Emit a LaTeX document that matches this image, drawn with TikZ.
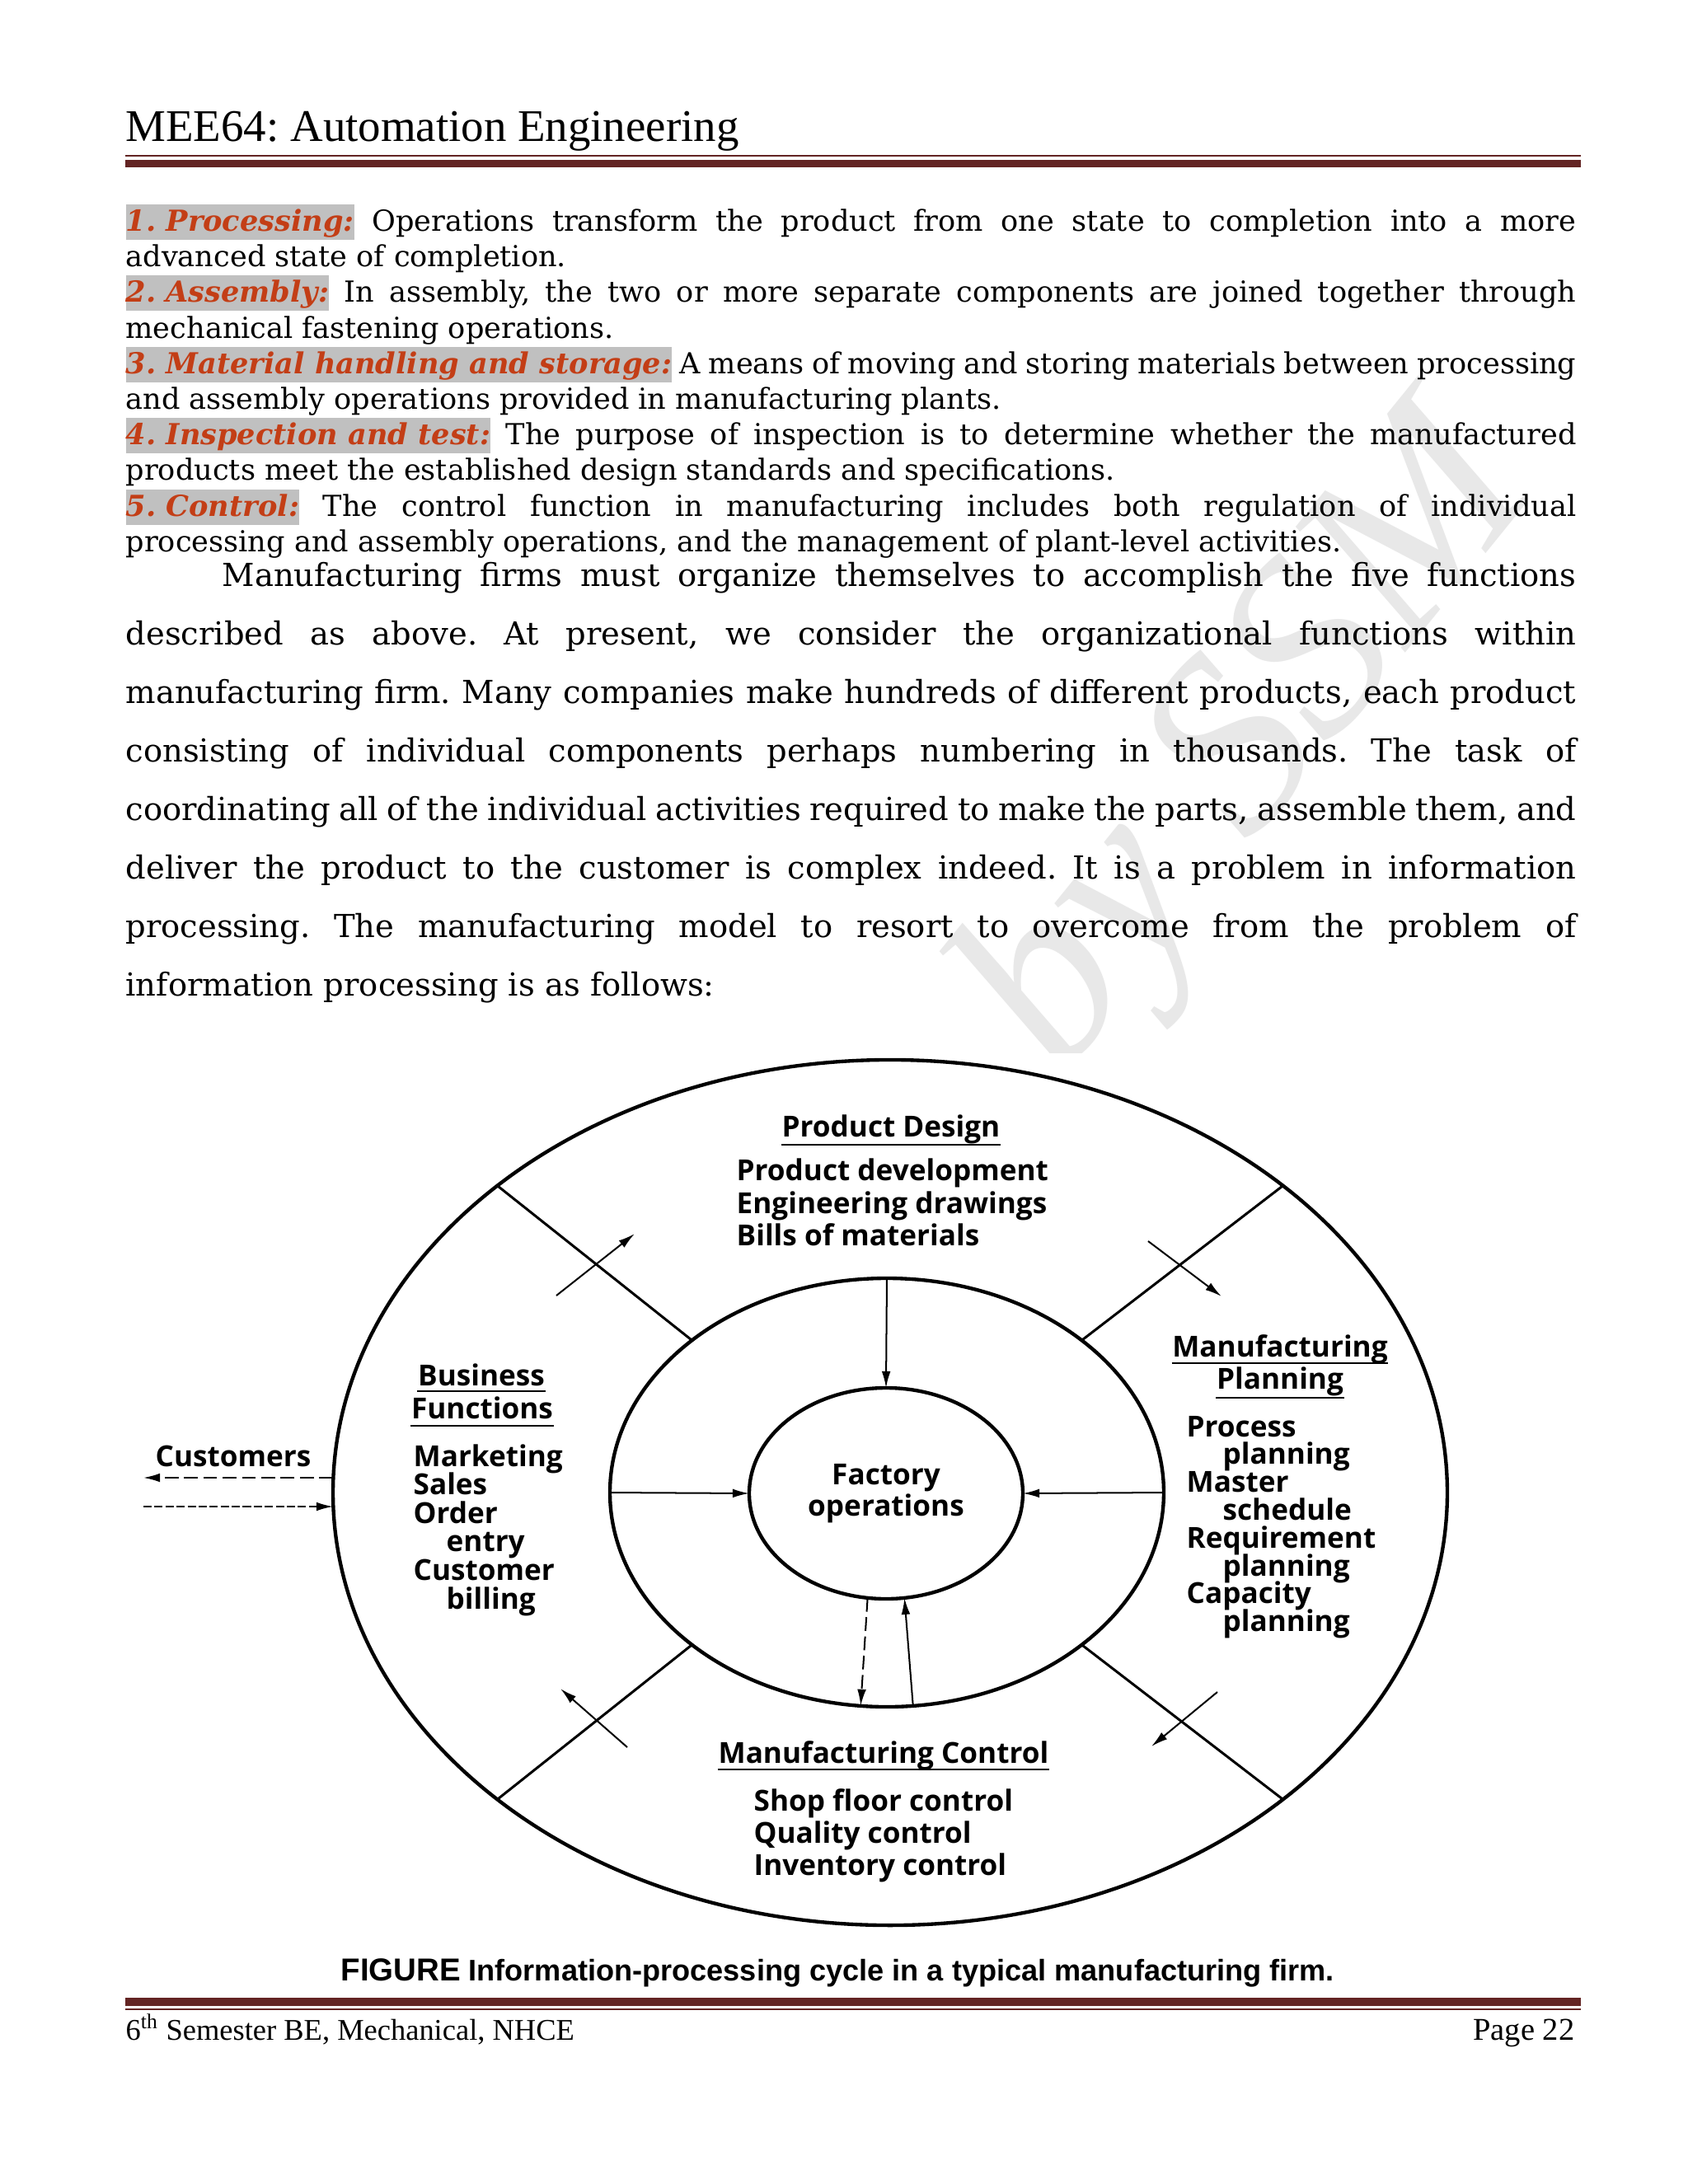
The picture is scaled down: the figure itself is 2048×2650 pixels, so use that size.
\documentclass[tikz,border=0pt]{standalone}
\usepackage{fontspec}
\setmainfont{DejaVu Serif}
\newfontfamily\hdfont{Liberation Serif}
\newfontfamily\dgfont{Open Sans}
\newfontfamily\capfont{Liberation Sans}
\usepackage{tikz}
\usetikzlibrary{arrows.meta,shapes.geometric,calc}
\definecolor{rulered}{RGB}{99,36,35}
\definecolor{labred}{RGB}{195,62,22}
\definecolor{hlgray}{RGB}{192,192,192}
\definecolor{wmgray}{RGB}{232,232,232}
\newlength\tw
\setlength\tw{525.9pt}
\newcommand\jl[1]{\makebox[\tw][s]{#1}}
\newcommand\lab[1]{{\setlength\fboxsep{0pt}\colorbox{hlgray}{\rule[-3.3pt]{0pt}{12.9pt}\textcolor{labred}{\bfseries\itshape #1}}}}
\frenchspacing

\begin{document}
\begin{tikzpicture}[x=0.29883pt,y=-0.29883pt,
    items/.style={anchor=base west,inner sep=0pt,font=\fontsize{10.5}{12}\selectfont},
    para/.style={anchor=base west,inner sep=0pt,font=\fontsize{11.5}{13}\selectfont},
    ring/.style={ellipse,draw,line width=1.3pt,inner sep=0pt,outer sep=0pt},
    divider/.style={line width=0.9pt},
    flow/.style={line width=0.6pt,-{Latex[length=6pt,width=3.2pt]}},
    flowdash/.style={flow,dash pattern=on 5pt off 2pt},
    head/.style={anchor=base,inner sep=0pt,font=\dgfont\bfseries\fontsize{10.5}{12}\selectfont},
    entry/.style={anchor=base west,inner sep=0pt,font=\dgfont\bfseries\fontsize{10.5}{12}\selectfont},
    uline/.style={line width=0.8pt}]
  \useasboundingbox (0,0) rectangle (2048,2650);

  \node[rotate=51,inner sep=0pt,text=wmgray,font=\hdfont\itshape\fontsize{91}{91}\selectfont] (wm) at (1521,905) {by SSM};

  \node[anchor=base west,inner sep=0pt,font=\hdfont\fontsize{16.4}{19}\selectfont] (title) at (152,171) {MEE64: Automation Engineering};
  \draw[rulered,line width=0.75pt] (152,189) -- (1918,189);
  \fill[rulered] (152,194) rectangle (1918,203);

  \node[items] (i1) at (152,280) {\jl{\lab{1. Processing:} Operations transform the product from one state to completion into a more}};
  \node[items] (i2) at (152,323) {advanced state of completion.};
  \node[items] (i3) at (152,366) {\jl{\lab{2. Assembly:} In assembly, the two or more separate components are joined together through}};
  \node[items] (i4) at (152,410) {mechanical fastening operations.};
  \node[items] (i5) at (152,453) {\jl{\lab{3. Material handling and storage:} A means of moving and storing materials between processing}};
  \node[items] (i6) at (152,496) {and assembly operations provided in manufacturing plants.};
  \node[items] (i7) at (152,539) {\jl{\lab{4. Inspection and test:} The purpose of inspection is to determine whether the manufactured}};
  \node[items] (i8) at (152,582) {products meet the established design standards and specifications.};
  \node[items] (i9) at (152,626) {\jl{\lab{5. Control:} The control function in manufacturing includes both regulation of individual}};
  \node[items] (i10) at (152,669) {processing and assembly operations, and the management of plant-level activities.};

  \node[para] (p1) at (152,711) {\jl{\hspace*{35pt}Manufacturing firms must organize themselves to accomplish the five functions}};
  \node[para] (p2) at (152,782) {\jl{described as above. At present, we consider the organizational functions within}};
  \node[para] (p3) at (152,853) {\jl{manufacturing firm. Many companies make hundreds of different products, each product}};
  \node[para] (p4) at (152,924) {\jl{consisting of individual components perhaps numbering in thousands. The task of}};
  \node[para] (p5) at (152,995) {\jl{coordinating all of the individual activities required to make the parts, assemble them, and}};
  \node[para] (p6) at (152,1066) {\jl{deliver the product to the customer is complex indeed. It is a problem in information}};
  \node[para] (p7) at (152,1137) {\jl{processing. The manufacturing model to resort to overcome from the problem of}};
  \node[para] (p8) at (152,1208) {information processing is as follows:};

  \fill[white] (150,1278) rectangle (1900,2415);

  \node[ring,minimum width=404pt,minimum height=313.8pt] (outer) at (1080,1811) {};
  \node[ring,minimum width=200.8pt,minimum height=155.4pt] (mid) at (1076,1811) {};
  \node[ring,minimum width=99.2pt,minimum height=76.5pt,align=center,font=\dgfont\bfseries\fontsize{10.5}{10}\selectfont] (inner) at (1075,1812) {Factory\\operations};

  \draw[divider] (outer.142) -- (mid.142);
  \draw[divider] (outer.38) -- (mid.38);
  \draw[divider] (outer.218) -- (mid.218);
  \draw[divider] (outer.322) -- (mid.322);

  \coordinate (ulA) at (675,1572);
  \coordinate (ulB) at (770,1497);
  \coordinate (urA) at (1393,1506);
  \coordinate (urB) at (1482,1573);
  \coordinate (lrA) at (1477,2053);
  \coordinate (lrB) at (1397,2119);
  \coordinate (llA) at (761,2120);
  \coordinate (llB) at (680,2049);
  \draw[flow] (ulA) -- (ulB);
  \draw[flow] (urA) -- (urB);
  \draw[flow] (lrA) -- (lrB);
  \draw[flow] (llA) -- (llB);

  \draw[flow] (mid.north) -- (inner.north);
  \draw[flow] (mid.west) -- (inner.west);
  \draw[flow] (mid.east) -- (inner.east);
  \draw[flowdash] (inner.260) -- (mid.263);
  \draw[flow] (mid.277) -- (inner.280);

  \coordinate (custA) at (174,1793);
  \coordinate (custB) at (174,1828);
  \draw[flowdash] (outer.west |- custA) -- (custA);
  \draw[flow,dash pattern=on 3pt off 1pt] (custB) -- (outer.west |- custB);
  \node[head] (cust) at (283,1779) {Customers};

  \node[head] (pd) at (1081,1379) {Product Design};
  \draw[uline] ($(pd.base west)+(0,10)$) -- ($(pd.base east)+(0,10)$);
  \foreach \t [count=\k] in {Product development,Engineering drawings,Bills of materials}
    \node[entry] (pd\k) at (893,1393+39.5*\k) {\t};

  \node[head] (bf1) at (584,1681) {Business};
  \draw[uline] ($(bf1.base west)+(0,7)$) -- ($(bf1.base east)+(0,7)$);
  \node[head] (bf2) at (585,1721) {Functions};
  \draw[uline] ($(bf2.base west)+(0,9)$) -- ($(bf2.base east)+(0,9)$);
  \foreach \t/\d [count=\k] in {Marketing/0,Sales/0,Order/0,entry/40,Customer/0,billing/40}
    \node[entry] (bfl\k) at (501+\d,1744.4+34.6*\k) {\t};

  \node[head] (mp1) at (1553,1646) {Manufacturing};
  \draw[uline] ($(mp1.base west)+(0,8)$) -- ($(mp1.base east)+(0,8)$);
  \node[head] (mp2) at (1553,1685) {Planning};
  \draw[uline] ($(mp2.base west)+(0,11)$) -- ($(mp2.base east)+(0,11)$);
  \foreach \t/\d [count=\k] in {Process/0,planning/44,Master/0,schedule/44,Requirement/0,planning/44,Capacity/0,planning/44}
    \node[entry] (mpl\k) at (1439+\d,1709.2+33.8*\k) {\t};

  \node[head] (mc) at (1072,2139) {Manufacturing Control};
  \draw[uline] ($(mc.base west)+(0,8)$) -- ($(mc.base east)+(0,8)$);
  \foreach \t [count=\k] in {Shop floor control,Quality control,Inventory control}
    \node[entry] (mcl\k) at (914,2158+39*\k) {\t};

  \node[anchor=base west,inner sep=0pt,font=\capfont\bfseries\fontsize{11.5}{13}\selectfont] (figlbl) at (413,2403) {FIGURE};
  \node[anchor=base west,inner sep=0pt,font=\capfont\bfseries\fontsize{10.8}{12}\selectfont] (figtxt) at (568,2403) {Information-processing cycle in a typical manufacturing firm.};

  \fill[rulered] (152,2424) rectangle (1918,2434);
  \draw[rulered,line width=0.6pt] (152,2438) -- (1918,2438);
  \node[anchor=base west,inner sep=0pt,font=\hdfont\fontsize{10.9}{13}\selectfont] (foot) at (152,2475) {6\textsuperscript{th} Semester BE, Mechanical, NHCE};
  \node[anchor=base east,inner sep=0pt,font=\hdfont\fontsize{11.5}{14}\selectfont] (page) at (1911,2475) {Page 22};
\end{tikzpicture}
\end{document}
